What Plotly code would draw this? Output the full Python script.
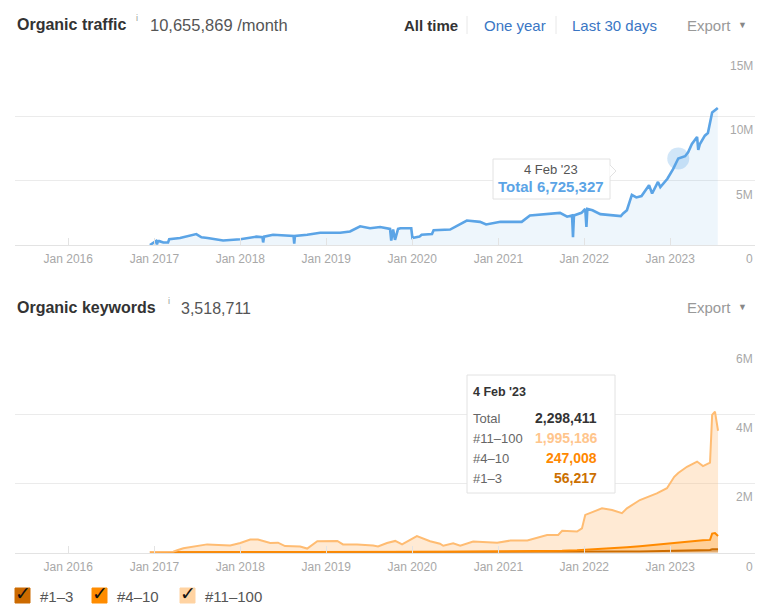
import plotly.graph_objects as go

# ---------------- DATA ----------------
traffic_dates = [
    "2016-12-13", "2016-12-28", "2017-01-08", "2017-01-12", "2017-01-16", "2017-01-22", "2017-02-08",
    "2017-02-28", "2017-03-05", "2017-04-20", "2017-06-02", "2017-06-28", "2017-07-20", "2017-08-15",
    "2017-10-20", "2018-01-01", "2018-03-10", "2018-04-05", "2018-04-08", "2018-04-12", "2018-05-20",
    "2018-07-19", "2018-08-15", "2018-08-18", "2018-08-21", "2018-10-12", "2018-12-06", "2019-03-01",
    "2019-04-12", "2019-05-25", "2019-07-06", "2019-08-18", "2019-09-29", "2019-10-04", "2019-10-12",
    "2019-10-20", "2019-11-02", "2019-11-12", "2019-12-28", "2020-01-02", "2020-02-01", "2020-02-10",
    "2020-03-25", "2020-04-01", "2020-06-10", "2020-08-20", "2020-10-15", "2020-11-10", "2021-01-10",
    "2021-04-10", "2021-05-15", "2021-09-20", "2021-10-20", "2021-11-10", "2021-11-14", "2021-11-18",
    "2021-12-20", "2022-01-05", "2022-01-10", "2022-01-14", "2022-02-05", "2022-03-10", "2022-05-20",
    "2022-06-05", "2022-06-15", "2022-07-01", "2022-07-22", "2022-08-10", "2022-09-01", "2022-09-08",
    "2022-10-03", "2022-10-16", "2022-11-10", "2022-11-20", "2022-12-20", "2023-01-13", "2023-02-04",
    "2023-03-05", "2023-03-18", "2023-04-03", "2023-04-25", "2023-04-30", "2023-05-07", "2023-05-28",
    "2023-06-10", "2023-06-28", "2023-07-10", "2023-07-22",
]
# organic traffic, millions / month
traffic_values = [
    0, 0.15, 0.3, 0.05, 0.3, 0.3, 0.2,
    0.2, 0.45, 0.55, 0.7, 0.85, 0.6, 0.55,
    0.35, 0.45, 0.65, 0.6, 0.2, 0.65, 0.8,
    0.7, 0.7, 0.1, 0.7, 0.8, 0.95, 0.95,
    1.05, 1.45, 1.3, 1.4, 1.25, 0.35, 1.2,
    0.4, 1.25, 1.3, 1.3, 0.55, 0.65, 0.8,
    0.85, 1.15, 1.2, 1.9, 1.8, 1.6, 1.8,
    1.8, 2.3, 2.5, 2.2, 2.3, 0.6, 2.3,
    2.5, 2.8, 1.4, 2.8, 2.7, 2.4, 2.3,
    2.25, 2.45, 2.7, 3.9, 3.7, 3.8, 4.0,
    4.65, 4.0, 4.9, 4.5, 5.15, 5.9, 6.725327,
    6.9, 7.2, 7.85, 8.4, 7.4, 7.85, 8.5,
    8.7, 10.3, 10.5, 10.655869,
]

kw_dates = [
    "2016-12-13", "2017-03-22", "2017-04-08", "2017-05-04", "2017-08-13", "2017-11-19", "2018-01-01",
    "2018-02-12", "2018-03-17", "2018-05-08", "2018-06-10", "2018-07-10", "2018-09-12", "2018-10-12",
    "2018-11-24", "2019-02-17", "2019-03-13", "2019-05-12", "2019-07-19", "2019-08-09", "2019-09-16",
    "2019-10-21", "2019-11-19", "2020-01-21", "2020-03-17", "2020-04-28", "2020-05-12", "2020-06-23",
    "2020-07-23", "2020-09-16", "2020-12-27", "2021-02-21", "2021-05-04", "2021-06-15", "2021-07-27",
    "2021-09-12", "2021-09-29", "2021-12-01", "2021-12-22", "2022-01-05", "2022-02-08", "2022-03-17",
    "2022-04-29", "2022-06-10", "2022-07-01", "2022-08-25", "2022-11-05", "2022-12-18", "2023-01-18",
    "2023-02-04", "2023-03-13", "2023-04-25", "2023-05-20", "2023-06-19", "2023-06-28", "2023-07-10",
    "2023-07-23",
]
# keywords by position bucket, millions
kw_pos_1_3 = [
    0.004, 0.005, 0.005, 0.005, 0.005, 0.005, 0.005,
    0.005, 0.005, 0.005, 0.005, 0.005, 0.005, 0.005,
    0.006, 0.006, 0.006, 0.006, 0.006, 0.006, 0.006,
    0.006, 0.006, 0.007, 0.007, 0.007, 0.007, 0.007,
    0.007, 0.008, 0.008, 0.009, 0.010, 0.011, 0.012,
    0.014, 0.015, 0.018, 0.020, 0.022, 0.025, 0.027,
    0.030, 0.032, 0.034, 0.038, 0.045, 0.050, 0.054,
    0.056217, 0.062, 0.070, 0.074, 0.080, 0.100, 0.105,
    0.100,
]
kw_pos_4_10 = [
    0.012, 0.015, 0.015, 0.015, 0.016, 0.016, 0.016,
    0.017, 0.017, 0.017, 0.017, 0.016, 0.016, 0.016,
    0.017, 0.017, 0.017, 0.017, 0.017, 0.017, 0.018,
    0.018, 0.018, 0.020, 0.019, 0.019, 0.019, 0.020,
    0.020, 0.021, 0.022, 0.024, 0.027, 0.030, 0.034,
    0.040, 0.043, 0.055, 0.060, 0.068, 0.078, 0.088,
    0.100, 0.115, 0.125, 0.150, 0.190, 0.220, 0.240,
    0.247008, 0.265, 0.280, 0.285, 0.290, 0.450, 0.460,
    0.380,
]
kw_pos_11_100 = [
    0.004, 0.010, 0.050, 0.110, 0.219, 0.189, 0.259,
    0.358, 0.358, 0.258, 0.268, 0.169, 0.159, 0.099,
    0.307, 0.317, 0.217, 0.217, 0.187, 0.157, 0.256,
    0.316, 0.216, 0.453, 0.304, 0.234, 0.174, 0.243,
    0.173, 0.291, 0.260, 0.317, 0.313, 0.389, 0.464,
    0.456, 0.572, 0.537, 0.620, 1.000, 1.077, 1.165,
    1.100, 0.993, 1.121, 1.332, 1.475, 1.590, 1.896,
    1.995186, 2.153, 2.280, 2.141, 2.230, 3.430, 3.505,
    3.038711,
]

tick_dates = ["2016-01-01", "2017-01-01", "2018-01-01", "2019-01-01",
              "2020-01-01", "2021-01-01", "2022-01-01", "2023-01-01"]
tick_labels = ["Jan 2016", "Jan 2017", "Jan 2018", "Jan 2019",
               "Jan 2020", "Jan 2021", "Jan 2022", "Jan 2023"]
traffic_ticks = [0, 5, 10, 15]
traffic_tick_labels = ["0", "5M", "10M", "15M"]
kw_ticks = [0, 2, 4, 6]
kw_tick_labels = ["0", "2M", "4M", "6M"]
series_names = ["#1–3", "#4–10", "#11–100"]
hover_date = "2023-02-04"
hover_label = "4 Feb '23"

# ---------------- STYLE ----------------
FONT = "Liberation Sans, Arial, sans-serif"
W, H = 768, 608
ML, MR = 15, 13
PW = W - ML - MR
BLUE = "#5ba4e6"
C13, C410, C11 = "#cc6c00", "#ff8a00", "#ffbc72"
BOX13, BOX410, BOX11 = "#cc6a00", "#ff8c00", "#ffd3a2"
VAL13, VAL410, VAL11 = "#cc7000", "#ff8800", "#ffc58c"


def px(x):
    return (x - ML) / PW


def py(y):
    return 1 - y / H


fig = go.Figure()

# traffic area
fig.add_trace(go.Scatter(
    x=traffic_dates, y=traffic_values, mode="lines", fill="tozeroy",
    line=dict(color=BLUE, width=2.6), fillcolor="rgba(91,164,230,0.10)",
    xaxis="x", yaxis="y", hoverinfo="skip"))

hi = traffic_dates.index(hover_date)
fig.add_trace(go.Scatter(
    x=[traffic_dates[hi]], y=[traffic_values[hi]], mode="markers",
    marker=dict(size=22, color="rgba(91,164,230,0.28)", line=dict(width=0)),
    xaxis="x", yaxis="y", hoverinfo="skip"))

# keywords stacked areas
for vals, name, lc, fc in [
    (kw_pos_1_3, series_names[0], C13, "rgba(204,108,0,0.55)"),
    (kw_pos_4_10, series_names[1], C410, "rgba(255,138,0,0.40)"),
    (kw_pos_11_100, series_names[2], C11, "rgba(255,190,120,0.32)"),
]:
    fig.add_trace(go.Scatter(
        x=kw_dates, y=vals, name=name, mode="lines", stackgroup="kw",
        line=dict(color=lc, width=2), fillcolor=fc,
        xaxis="x2", yaxis="y2", hoverinfo="skip"))

xrange = ["2015-05-20", "2023-12-27"]
xcommon = dict(type="date", range=xrange, tickvals=tick_dates, ticktext=tick_labels,
               ticks="inside", ticklen=7, tickcolor="#e3e3e3", tickwidth=1,
               showgrid=False, zeroline=False, showline=True, linecolor="#e3e3e3",
               linewidth=1, tickfont=dict(family=FONT, size=12, color="#a8a8a8"),
               ticklabelstandoff=3, automargin=False, fixedrange=True)
ycommon = dict(showticklabels=False, gridcolor="#ebebeb", gridwidth=1, zeroline=False,
               showline=False, ticks="", automargin=False, fixedrange=True)

fig.update_layout(
    width=W, height=H, margin=dict(l=ML, r=MR, t=0, b=0),
    paper_bgcolor="white", plot_bgcolor="white", showlegend=False,
    font=dict(family=FONT),
    xaxis=dict(anchor="y", domain=[0, 1], **xcommon),
    yaxis=dict(anchor="x", domain=[py(245), py(52)], range=[0, 15], tickvals=traffic_ticks, **ycommon),
    xaxis2=dict(anchor="y2", domain=[0, 1], **xcommon),
    yaxis2=dict(anchor="x2", domain=[py(552.7), py(344.8)], range=[0, 6], tickvals=kw_ticks, **ycommon),
)

ann = []
shapes = []


def text(x, y, t, size, color, xanchor="left", yanchor="middle", bold=False, xref="paper", yref="paper", yshift=0):
    ann.append(dict(x=x, y=y, xref=xref, yref=yref, text=(f"<b>{t}</b>" if bold else t),
                    showarrow=False, xanchor=xanchor, yanchor=yanchor, yshift=yshift,
                    font=dict(family=FONT, size=size, color=color)))


# y tick labels (inside right, under gridline)
for v, lab in zip(traffic_ticks, traffic_tick_labels):
    text(1.0, v, lab, 12, "#a8a8a8", xanchor="right", yanchor="top", yref="y", yshift=-5)
for v, lab in zip(kw_ticks, kw_tick_labels):
    text(1.0, v, lab, 12, "#a8a8a8", xanchor="right", yanchor="top", yref="y2", yshift=-5)

# headers
text(px(15), py(24), "Organic traffic", 16, "#333", bold=True)
text(px(134), py(18), "i", 9, "#999", xanchor="left")
text(px(148), py(25), f"{round(traffic_values[-1] * 1e6):,} /month", 16.5, "#555")
text(px(402), py(25), "All time", 15, "#333", bold=True)
text(px(482), py(25), "One year", 15, "#3a76c4")
text(px(570), py(25), "Last 30 days", 15, "#3a76c4")
for y in (25, 307):
    text(px(685), py(y), "Export", 15, "#999")
    text(px(742), py(y), "▼", 9, "#888", xanchor="center")
for sx in (467, 556):
    shapes.append(dict(type="line", xref="paper", yref="paper", x0=px(sx), x1=px(sx),
                       y0=py(16), y1=py(34), line=dict(color="#e8e8e8", width=1)))

kw_total_last = kw_pos_1_3[-1] + kw_pos_4_10[-1] + kw_pos_11_100[-1]
text(px(15), py(307), "Organic keywords", 16, "#333", bold=True)
text(px(166), py(301), "i", 9, "#999")
text(px(179), py(308), f"{round(kw_total_last * 1e6):,}", 16, "#555")

# traffic tooltip
shapes.append(dict(type="rect", xref="paper", yref="paper", x0=px(493), x1=px(610),
                   y0=py(199), y1=py(159), fillcolor="white", line=dict(color="#e2e2e2", width=1)))
shapes.append(dict(type="path", xref="paper", yref="paper",
                   path=f"M {px(609.5)},{py(165)} L {px(616)},{py(171)} L {px(609.5)},{py(177)} Z",
                   fillcolor="white", line=dict(width=0)))
shapes.append(dict(type="path", xref="paper", yref="paper",
                   path=f"M {px(610)},{py(165)} L {px(616)},{py(171)} L {px(610)},{py(177)}",
                   line=dict(color="#e2e2e2", width=1)))
text(px(551), py(170), hover_label, 13, "#555", xanchor="center")
text(px(551), py(186), f"Total {round(traffic_values[hi] * 1e6):,}", 15, BLUE, xanchor="center", bold=True)

# keywords tooltip
ki = kw_dates.index(hover_date)
shapes.append(dict(type="rect", xref="paper", yref="paper", x0=px(467), x1=px(615),
                   y0=py(493), y1=py(375), fillcolor="white", line=dict(color="#e2e2e2", width=1)))
text(px(471), py(392), hover_label, 12.5, "#333", bold=True)
k13, k410, k11 = kw_pos_1_3[ki], kw_pos_4_10[ki], kw_pos_11_100[ki]
rows = [("Total", k13 + k410 + k11, "#333"),
        (series_names[2], k11, VAL11),
        (series_names[1], k410, VAL410),
        (series_names[0], k13, VAL13)]
for i, (lab, v, col) in enumerate(rows):
    yy = 418 + 20 * i
    text(px(471), py(yy), lab, 13, "#666")
    text(px(599), py(yy), f"{round(v * 1e6):,}", 14, col, xanchor="right", bold=True)

# legend (checkbox style)
for bx, tx, col, name in [(15, 38, BOX13, series_names[0]),
                          (92, 115, BOX410, series_names[1]),
                          (180, 203, BOX11, series_names[2])]:
    shapes.append(dict(type="rect", xref="paper", yref="paper", x0=px(bx), x1=px(bx + 15),
                       y0=py(603), y1=py(588), fillcolor=col, line=dict(color=col, width=1)))
    ann.append(dict(x=px(bx + 8), y=py(593), xref="paper", yref="paper", text="✓", showarrow=False,
                    xanchor="center", yanchor="middle",
                    font=dict(family="DejaVu Sans", size=19, color="#111")))
    text(px(tx), py(596), name, 15, "#555")

fig.update_layout(annotations=ann, shapes=shapes)
fig.write_html("out.html")
